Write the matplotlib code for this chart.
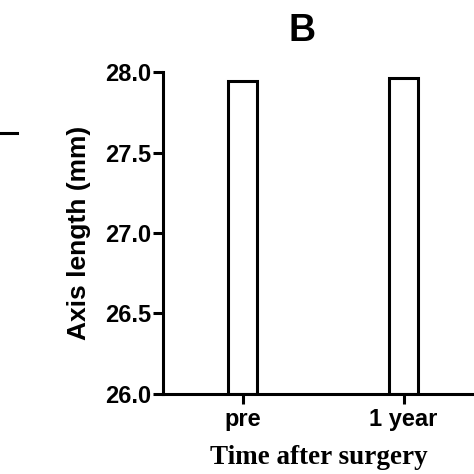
import matplotlib
matplotlib.use("Agg")
import matplotlib.pyplot as plt
from matplotlib.lines import Line2D

categories = ["pre", "1 year"]
axis_length = [27.944, 27.965]
yticks = [26.0, 26.5, 27.0, 27.5, 28.0]

plt.rcParams["font.family"] = ["Liberation Sans", "DejaVu Sans"]

fig = plt.figure(figsize=(4.74, 4.74), dpi=100)
ax = fig.add_axes([0.344, 0.169, 0.656, 0.679])

x = list(range(len(categories)))
ax.bar(x, [v - 26.0 for v in axis_length], bottom=26.0, width=0.18,
       facecolor="white", edgecolor="black", linewidth=2.2, zorder=3)

ax.set_ylim(26.0, 28.0)
ax.set_xlim(-0.494, 1.438)
ax.set_yticks(yticks)
ax.set_yticklabels([f"{t:.1f}" for t in yticks])
ax.set_xticks(x)
ax.set_xticklabels(categories)

for side in ["top", "right"]:
    ax.spines[side].set_visible(False)
for side in ["left", "bottom"]:
    ax.spines[side].set_linewidth(2.2)
ax.spines["bottom"].set_zorder(4)

ax.tick_params(axis="both", width=2.2, length=7, labelsize=17, pad=1.5)
ax.tick_params(axis="x", pad=3.5)
for lab in ax.get_xticklabels() + ax.get_yticklabels():
    lab.set_fontweight("bold")

ax.set_ylabel("Axis length (mm)", fontsize=19, fontweight="bold", labelpad=10)
ax.set_xlabel("Time after surgery", fontsize=19.5, fontweight="bold",
              family=["Liberation Serif", "DejaVu Serif"], labelpad=10)

fig.text(0.638, 0.935, "B", ha="center", va="center", fontsize=27,
         fontweight="bold")

# fragment of the neighbouring panel at the left edge
fig.add_artist(Line2D([0.0, 0.036], [0.719, 0.719], color="black",
                      linewidth=2.2, transform=fig.transFigure))

fig.savefig("out.png", dpi=100)
